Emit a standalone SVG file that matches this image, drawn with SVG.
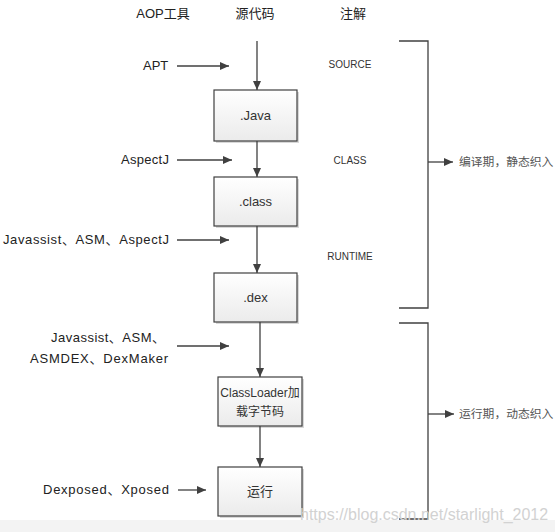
<svg xmlns="http://www.w3.org/2000/svg" width="555" height="532" viewBox="0 0 555 532">
  <defs>
    <linearGradient id="boxfill" x1="0" y1="0" x2="0" y2="1">
      <stop offset="0" stop-color="#ffffff"/>
      <stop offset="1" stop-color="#ebebeb"/>
    </linearGradient>
    <marker id="arr" markerUnits="userSpaceOnUse" markerWidth="10" markerHeight="8" refX="9" refY="4" orient="auto">
      <path d="M0,0 L9,4 L0,8 z" fill="#404040"/>
    </marker>
  </defs>
  <style>
    text { font-family: "Liberation Sans", "Noto Sans CJK SC", sans-serif; fill: #222; }
    .lbl { font-size: 13px; }
    .ann { font-size: 10px; text-anchor: middle; fill: #333; }
    .box { fill: url(#boxfill); stroke: #404040; stroke-width: 1.2; }
    .shadow { fill: #d8d8d8; }
    .btxt { font-size: 13px; text-anchor: middle; fill: #333; }
    .conn { stroke: #404040; stroke-width: 1.3; fill: none; }
    .side { font-size: 11.8px; fill: #555; }
    .wm { font-size: 16px; fill: #d2d2d2; }
  </style>
  <rect x="0" y="0" width="555" height="532" fill="#ffffff"/>
  <rect x="0" y="520" width="555" height="12" fill="#f3f3f3"/>

  <g id="headers">
    <text class="lbl" x="163" y="18" text-anchor="middle">AOP工具</text>
    <text class="lbl" x="255" y="18" text-anchor="middle">源代码</text>
    <text class="lbl" x="353" y="18" text-anchor="middle">注解</text>
  </g>

  <g id="node-java">
    <rect class="shadow" x="216" y="92" width="83" height="51"/>
    <rect class="box" x="214" y="90" width="83" height="51"/>
    <text class="btxt" x="255.5" y="120">.Java</text>
  </g>
  <g id="node-class">
    <rect class="shadow" x="216" y="179" width="83" height="49"/>
    <rect class="box" x="214" y="177" width="83" height="49"/>
    <text class="btxt" x="255.5" y="206">.class</text>
  </g>
  <g id="node-dex">
    <rect class="shadow" x="216" y="275" width="83" height="49"/>
    <rect class="box" x="214" y="273" width="83" height="49"/>
    <text class="btxt" x="255.5" y="302">.dex</text>
  </g>
  <g id="node-classloader">
    <rect class="shadow" x="220" y="379" width="84" height="49"/>
    <rect class="box" x="218" y="377" width="84" height="49"/>
    <text class="btxt" x="260" y="397" style="font-size:12px">ClassLoader加</text>
    <text class="btxt" x="260" y="416" style="font-size:12px">载字节码</text>
  </g>
  <g id="node-run">
    <rect class="shadow" x="220" y="469" width="84" height="49"/>
    <rect class="box" x="218" y="467" width="84" height="49"/>
    <text class="btxt" x="260" y="496">运行</text>
  </g>

  <g id="tools">
    <text class="lbl" x="143" y="70">APT</text>
    <text class="lbl" x="121" y="164" textLength="48" lengthAdjust="spacing">AspectJ</text>
    <text class="lbl" x="3" y="244" textLength="166" lengthAdjust="spacing">Javassist、ASM、AspectJ</text>
    <text class="lbl" x="51" y="342" textLength="114" lengthAdjust="spacing">Javassist、ASM、</text>
    <text class="lbl" x="30" y="363" textLength="138" lengthAdjust="spacing">ASMDEX、DexMaker</text>
    <text class="lbl" x="43" y="494" textLength="126" lengthAdjust="spacing">Dexposed、Xposed</text>
  </g>

  <g id="annotations">
    <text class="ann" x="350" y="68">SOURCE</text>
    <text class="ann" x="350" y="164">CLASS</text>
    <text class="ann" x="350" y="260">RUNTIME</text>
  </g>

  <g id="phases">
    <text class="side" x="459" y="166">编译期，静态织入</text>
    <text class="side" x="459" y="418">运行期，动态织入</text>
  </g>

  <g id="connectors">
    <line class="conn" x1="257" y1="41" x2="257" y2="90" marker-end="url(#arr)"/>
    <line class="conn" x1="257" y1="141" x2="257" y2="177" marker-end="url(#arr)"/>
    <line class="conn" x1="257" y1="226" x2="257" y2="273" marker-end="url(#arr)"/>
    <line class="conn" x1="260" y1="322" x2="260" y2="377" marker-end="url(#arr)"/>
    <line class="conn" x1="260" y1="426" x2="260" y2="467" marker-end="url(#arr)"/>
    <line class="conn" x1="177" y1="66" x2="229" y2="66" marker-end="url(#arr)"/>
    <line class="conn" x1="177" y1="160" x2="232" y2="160" marker-end="url(#arr)"/>
    <line class="conn" x1="177" y1="240" x2="229" y2="240" marker-end="url(#arr)"/>
    <line class="conn" x1="177" y1="346" x2="229" y2="346" marker-end="url(#arr)"/>
    <line class="conn" x1="178" y1="490" x2="206" y2="490" marker-end="url(#arr)"/>
    <polyline class="conn" points="399,41 428,41 428,308 399,308"/>
    <line class="conn" x1="428" y1="162" x2="453" y2="162" marker-end="url(#arr)"/>
    <polyline class="conn" points="399,323 428,323 428,519 399,519"/>
    <line class="conn" x1="428" y1="414" x2="454" y2="414" marker-end="url(#arr)"/>
  </g>

  <text class="wm" x="300" y="520">https://blog.csdn.net/starlight_2012</text>
</svg>
